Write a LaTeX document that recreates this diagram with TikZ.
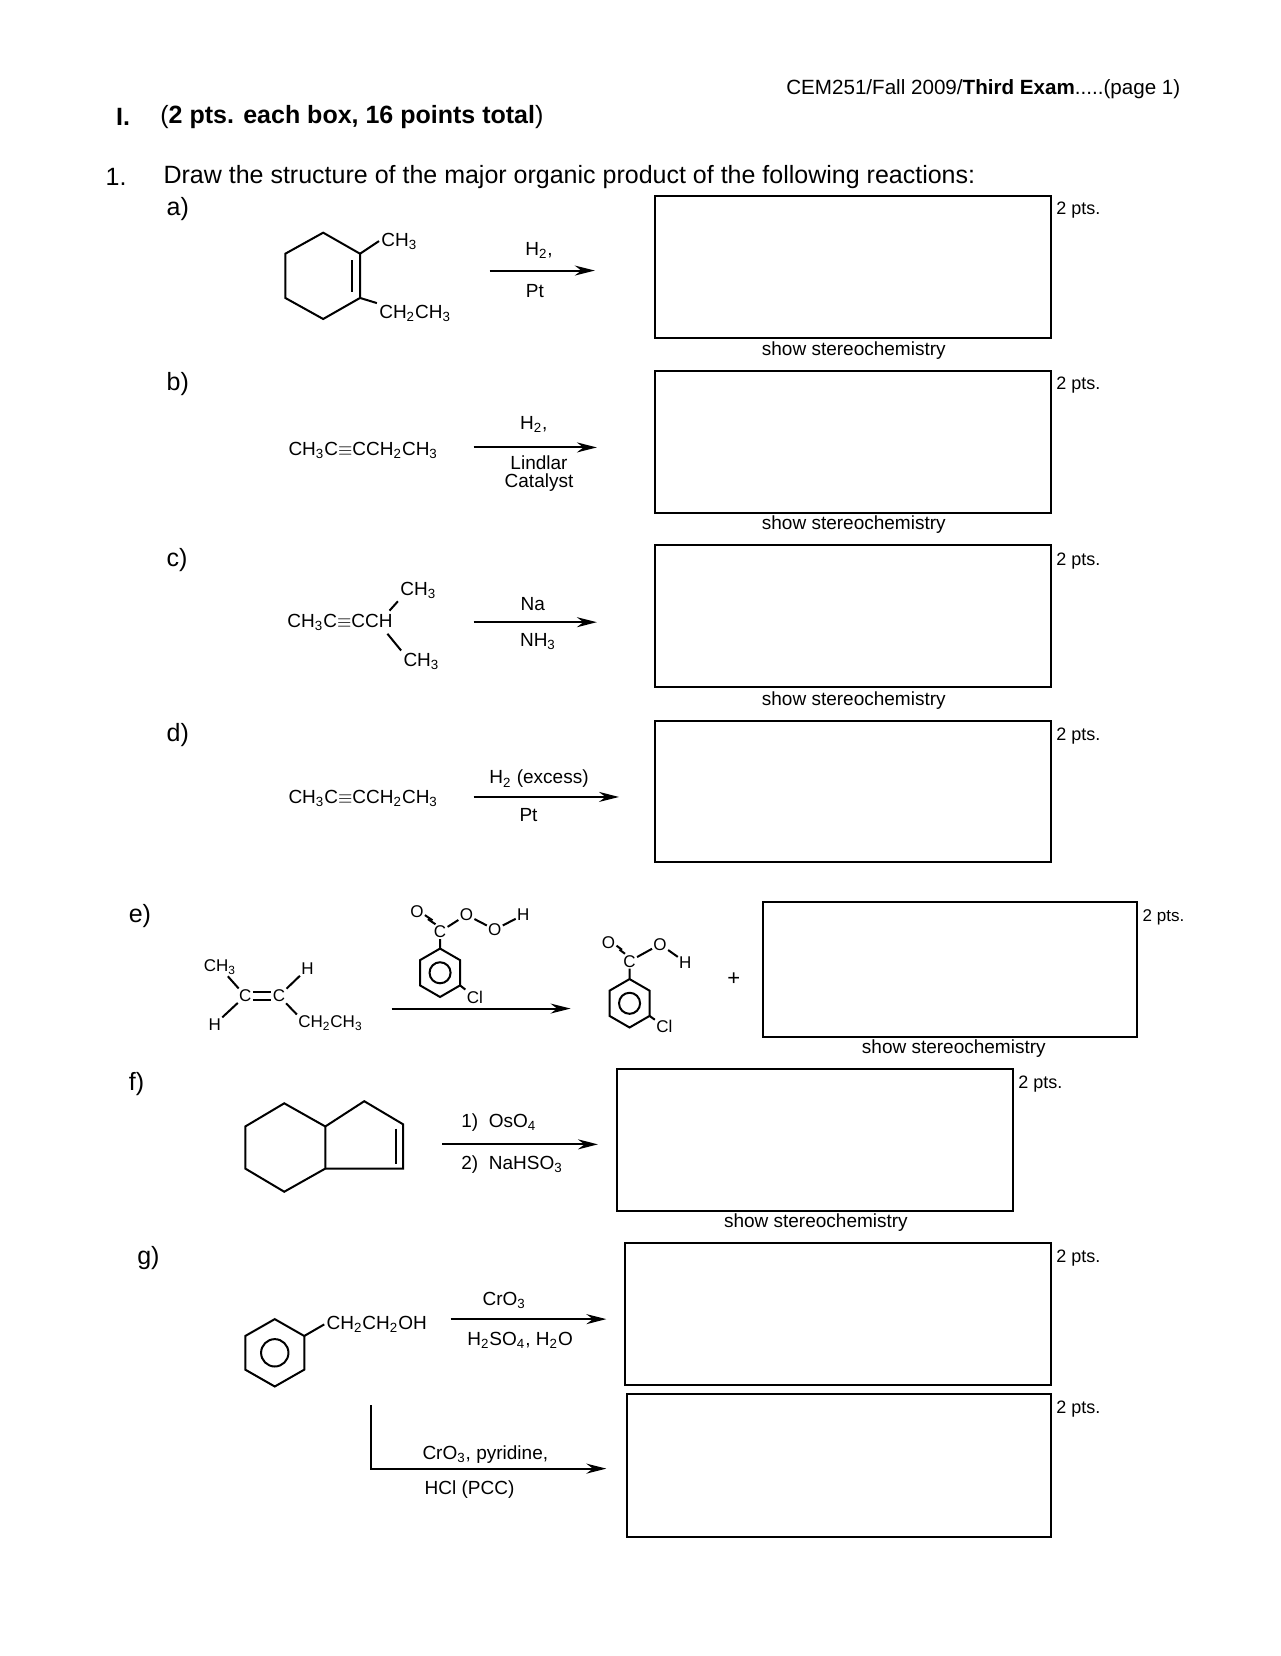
\documentclass[tikz,border=0pt]{standalone}
\usepackage{fontspec}
\setmainfont{Liberation Sans}
\usetikzlibrary{arrows.meta}
\newcommand\sbs[1]{\textsubscript{#1}}
\newcommand\tb{\ensuremath{\equiv}}

\begin{document}
\begin{tikzpicture}[x=0.5263pt,y=-0.5263pt,
		bond/.style={line width=1pt},
		rxn/.style={line width=1pt,-{Stealth[length=10pt,width=5pt]}},
		ansbox/.style={draw,line width=1pt},
		big/.style={font=\fontsize{12.5}{14}\selectfont,inner sep=0pt},
		chem/.style={font=\fontsize{9.5}{10.5}\selectfont,inner sep=1pt},
		small/.style={font=\fontsize{8.5}{9}\selectfont,inner sep=0.5pt},
		pts/.style={font=\fontsize{9}{10}\selectfont,anchor=west,inner sep=0pt}]
		\useasboundingbox (0,0) rectangle (1216,1573);

		% header
		\node (hdr) at (934,85) [chem,font=\fontsize{10.3}{12}\selectfont] {CEM251/Fall 2009/\textbf{Third Exam}.....(page 1)};
		\node (partI) at (110,111) [big,anchor=west] {\textbf{I.}};
		\node (total) at (152,111) [big,anchor=west] {(\textbf{2 pts. each box, 16 points total})};
		\node (q1) at (100,168) [big,anchor=west] {1.};
		\node (task) at (155,168) [big,anchor=west] {Draw the structure of the major organic product of the following reactions:};

		% part labels
		\node (la) at (158,199) [big,anchor=west] {a)};
		\node (lb) at (158,365) [big,anchor=west] {b)};
		\node (lc) at (158,532) [big,anchor=west] {c)};
		\node (ld) at (158,698) [big,anchor=west] {d)};
		\node (le) at (122,870) [big,anchor=west] {e)};
		\node (lf) at (122,1030) [big,anchor=west] {f)};
		\node (lg) at (130,1195) [big,anchor=west] {g)};

		% answer boxes
		\draw [ansbox] (622,186) rectangle (998,321);
		\draw [ansbox] (622,352) rectangle (998,487);
		\draw [ansbox] (622,518) rectangle (998,653);
		\draw [ansbox] (622,685) rectangle (998,819);
		\draw [ansbox] (725,857) rectangle (1080,985);
		\draw [ansbox] (586,1015) rectangle (962,1150);
		\draw [ansbox] (594,1181) rectangle (998,1316);
		\draw [ansbox] (596,1324) rectangle (998,1460);
		\node (pa) at (1003,200) [pts] {2 pts.};
		\node (pb) at (1003,366) [pts] {2 pts.};
		\node (pc) at (1003,533) [pts] {2 pts.};
		\node (pd) at (1003,699) [pts] {2 pts.};
		\node (pe) at (1085,871) [pts,font=\fontsize{8.5}{9}\selectfont] {2 pts.};
		\node (pf) at (967,1030) [pts] {2 pts.};
		\node (pg) at (1003,1195) [pts] {2 pts.};
		\node (ph) at (1003,1338) [pts] {2 pts.};
		\node (sa) at (811,333) [chem] {show stereochemistry};
		\node (sb) at (811,498) [chem] {show stereochemistry};
		\node (sc) at (811,665) [chem] {show stereochemistry};
		\node (se) at (906,996) [chem] {show stereochemistry};
		\node (sf) at (775,1161) [chem] {show stereochemistry};

		% a) 1-ethyl-2-methylcyclohexene
		\coordinate (a1) at (271,241);
		\coordinate (a2) at (307,221);
		\coordinate (a3) at (342,241);
		\coordinate (a4) at (342,283);
		\coordinate (a5) at (307,303);
		\coordinate (a6) at (271,283);
		\draw [bond] (a1) -- (a2) -- (a3) -- (a4) -- (a5) -- (a6) -- cycle;
		\draw [bond] (334,247) -- (334,277);
		\node (aMe) at (360,229) [chem,anchor=west] {CH\sbs{3}};
		\node (aEt) at (358,298) [chem,anchor=west] {CH\sbs{2}CH\sbs{3}};
		\draw [bond] (a3) -- (aMe.west);
		\draw [bond] (a4) -- (aEt.north west);
		\coordinate (ra0) at (465,257);
		\coordinate (ra1) at (565,257);
		\draw [rxn] (ra0) -- (ra1);
		\node (aR1) at (512,238) [chem] {H\sbs{2},};
		\node (aR2) at (508,276) [chem] {Pt};

		% b)
		\node (bS) at (345,428) [chem] {CH\sbs{3}C\tb CCH\sbs{2}CH\sbs{3}};
		\coordinate (rb0) at (450,425);
		\coordinate (rb1) at (567,425);
		\draw [rxn] (rb0) -- (rb1);
		\node (bR1) at (507,403) [chem] {H\sbs{2},};
		\node (bR2) at (512,450) [chem,align=center,font=\fontsize{9.5}{9}\selectfont] {Lindlar\\Catalyst};

		% c)
		\node (cS) at (323,591) [chem] {CH\sbs{3}C\tb CCH};
		\node (cMe1) at (378,561) [chem,anchor=west] {CH\sbs{3}};
		\node (cMe2) at (381,628) [chem,anchor=west] {CH\sbs{3}};
		\draw [bond] (370,580) -- (cMe1.south west);
		\draw [bond] (368,602) -- (cMe2.north west);
		\coordinate (rc0) at (450,591);
		\coordinate (rc1) at (567,591);
		\draw [rxn] (rc0) -- (rc1);
		\node (cR1) at (506,574) [chem] {Na};
		\node (cR2) at (511,609) [chem] {NH\sbs{3}};

		% d)
		\node (dS) at (345,758) [chem] {CH\sbs{3}C\tb CCH\sbs{2}CH\sbs{3}};
		\coordinate (rd0) at (450,757);
		\coordinate (rd1) at (588,757);
		\draw [rxn] (rd0) -- (rd1);
		\node (dR1) at (512,740) [chem] {H\sbs{2} (excess)};
		\node (dR2) at (502,774) [chem] {Pt};

		% e) cis-2-pentene + mCPBA
		\node (eC1) at (233,946) [small] {C};
		\node (eC2) at (265,946) [small] {C};
		\node (eMe) at (209,919) [small] {CH\sbs{3}};
		\node (eH1) at (204,973) [small] {H};
		\node (eH2) at (292,920) [small] {H};
		\node (eEt) at (282,972) [small,anchor=west] {CH\sbs{2}CH\sbs{3}};
		\draw [bond] ([yshift=-1.8]eC1.east) -- ([yshift=-1.8]eC2.west);
		\draw [bond] ([yshift=1.8]eC1.east) -- ([yshift=1.8]eC2.west);
		\draw [bond] (eC1) -- (eMe);
		\draw [bond] (eC1) -- (eH1);
		\draw [bond] (eC2) -- (eH2);
		\draw [bond] (eC2) -- (eEt.north west);
		% peracid
		\node (pC) at (418,885) [small] {C};
		\node (pO1) at (396,866) [small] {O};
		\node (pO2) at (443,869) [small] {O};
		\node (pO3) at (470,883) [small] {O};
		\node (pH) at (497,869) [small] {H};
		\draw [bond] ([xshift=1.5]pO1.south east) -- ([xshift=1.5]pC.north west);
		\draw [bond] ([yshift=2]pO1.south east) -- ([yshift=2]pC.north west);
		\draw [bond] (pC) -- (pO2) -- (pO3) -- (pH);
		\draw [bond] (pC.south) -- (418,901)
			-- (437,912) -- (437,936) -- (418,947) -- (399,936) -- (399,912) -- (418,901);
		\draw [bond] (418,924) circle (10);
		\node (pCl) at (451,947) [small] {Cl};
		\draw [bond] (437,936) -- (pCl);
		\coordinate (re0) at (372,958);
		\coordinate (re1) at (542,958);
		\draw [rxn] (re0) -- (re1);
		% acid product
		\node (qC) at (598,913) [small] {C};
		\node (qO1) at (578,895) [small] {O};
		\node (qO2) at (627,897) [small] {O};
		\node (qH) at (651,914) [small] {H};
		\draw [bond] ([xshift=1.5]qO1.south east) -- ([xshift=1.5]qC.north west);
		\draw [bond] ([yshift=2]qO1.south east) -- ([yshift=2]qC.north west);
		\draw [bond] (qC) -- (qO2) -- (qH);
		\draw [bond] (qC.south) -- (598,930)
			-- (617,941) -- (617,965) -- (598,976) -- (579,965) -- (579,941) -- (598,930);
		\draw [bond] (598,953) circle (10);
		\node (qCl) at (631,975) [small] {Cl};
		\draw [bond] (617,965) -- (qCl);
		\node (plus) at (697,930) [chem,font=\fontsize{11}{12}\selectfont] {+};

		% f) bicyclic alkene
		\draw [bond] (309,1070) -- (270,1048) -- (233,1070) -- (233,1110) -- (270,1132) -- (309,1110) -- cycle;
		\draw [bond] (309,1070) -- (346,1046) -- (383,1068) -- (383,1110) -- (309,1110);
		\draw [bond] (376,1072) -- (376,1106);
		\coordinate (rf0) at (420,1087);
		\coordinate (rf1) at (568,1087);
		\draw [rxn] (rf0) -- (rf1);
		\node (fR1) at (436,1066) [chem,anchor=west] {1)\ \ OsO\sbs{4}};
		\node (fR2) at (436,1106) [chem,anchor=west] {2)\ \ NaHSO\sbs{3}};

		% g) 2-phenylethanol
		\draw [bond] (261,1253) -- (289,1269) -- (289,1301) -- (261,1317) -- (233,1301) -- (233,1269) -- cycle;
		\draw [bond] (261,1285) circle (13);
		\node (gS) at (308,1258) [chem,anchor=west] {CH\sbs{2}CH\sbs{2}OH};
		\draw [bond] (289,1269) -- (gS.west);
		\coordinate (rg0) at (428,1253);
		\coordinate (rg1) at (576,1253);
		\draw [rxn] (rg0) -- (rg1);
		\node (gR1) at (479,1235) [chem] {CrO\sbs{3}};
		\node (gR2) at (494,1273) [chem] {H\sbs{2}SO\sbs{4}, H\sbs{2}O};
		\coordinate (rh0) at (352,1335);
		\coordinate (rh1) at (576,1395);
		\draw [rxn] (rh0) |- (rh1);
		\node (hR1) at (461,1382) [chem] {CrO\sbs{3}, pyridine,};
		\node (hR2) at (446,1415) [chem] {HCl (PCC)};
	\end{tikzpicture}
\end{document}
